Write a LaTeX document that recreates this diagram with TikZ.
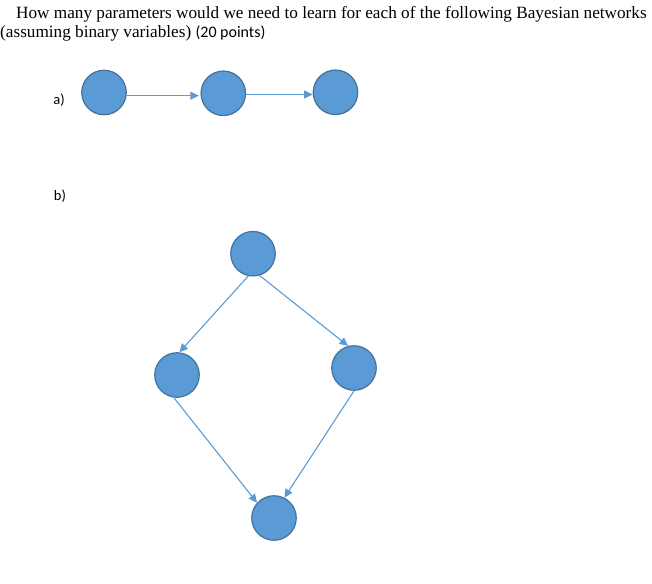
\documentclass[tikz,border=0pt]{standalone}
\usepackage{fontspec}
\setmainfont{Liberation Serif}
\setsansfont{Carlito}
\usetikzlibrary{arrows.meta}

\begin{document}
\begin{tikzpicture}[x=1pt,y=1pt,yscale=-1,xscale=1,
  bnode/.style={circle,draw={rgb,255:red,65;green,113;blue,156},line width=1.2pt,
    fill={rgb,255:red,91;green,155;blue,213},minimum size=44.5pt,inner sep=0pt},
  link/.style={draw={rgb,255:red,91;green,155;blue,213},line width=1.1pt,
    -{Triangle[length=8.5pt,width=8pt]}}]
\useasboundingbox (0,0) rectangle (652,583);

% Text Node
\draw (16,18.5) node [anchor=base west][inner sep=0pt] {\fontsize{17.2}{20}\selectfont How many parameters would we need to learn for each of the following Bayesian networks};
% Text Node
\draw (0,37.5) node [anchor=base west][inner sep=0pt] {\fontsize{17.2}{20}\selectfont (assuming binary variables) {\sffamily\fontsize{16}{19}\selectfont(20 points)}};

% Text Node
\draw (59,100) node [inner sep=0pt] {\sffamily\fontsize{14.5}{17}\selectfont a)};
% Text Node
\draw (60,196) node [inner sep=0pt] {\sffamily\fontsize{14.5}{17}\selectfont b)};

%Shape: Circle
\node [bnode] (a1) at (104,92.5) {};
%Shape: Circle
\node [bnode] (a2) at (223.3,93.3) {};
%Shape: Circle
\node [bnode] (a3) at (335.5,92.3) {};

%Shape: Circle
\node [bnode] (top) at (253,253.7) {};
%Shape: Circle
\node [bnode] (left) at (177,375) {};
%Shape: Circle
\node [bnode] (right) at (354,368) {};
%Shape: Circle
\node [bnode] (bottom) at (274,518) {};

%Straight Lines
\draw [link,shorten >=1.5pt] (a1.-8) -- (a1.-8 -| a2.west);
%Straight Lines
\draw [link] (a2.-3) -- (a2.-3 -| a3.west);
%Straight Lines
\draw [link] (top.-102) -- (left.84);
%Straight Lines
\draw [link] (top.-73) -- (right.105);
%Straight Lines
\draw [link] (left.-98) -- (bottom.138);
%Straight Lines
\draw [link] (right.-90) -- (bottom.63);

\end{tikzpicture}
\end{document}
